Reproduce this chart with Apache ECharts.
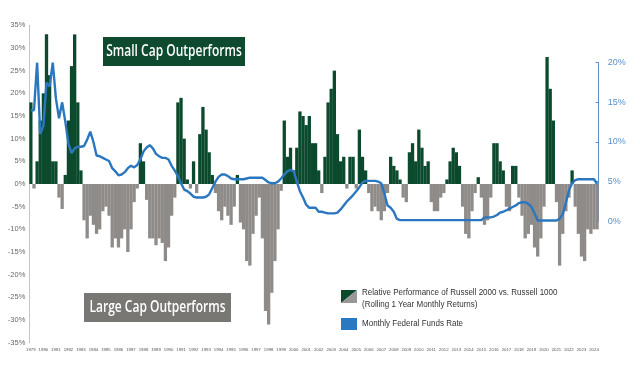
<!DOCTYPE html>
<html>
<head>
<meta charset="utf-8">
<script src="https://cdn.jsdelivr.net/npm/echarts@6/dist/echarts.min.js"></script>
<style>
html,body{margin:0;padding:0;background:#fff;}
#chart{width:640px;height:375px;}
</style>
</head>
<body>
<div id="chart"></div>
<script>
// Quarterly categories, 1979 Q1 .. 2024 Q2
var startYear = 1979;
var quarterCount = 182;
var categories = [];
for (var i = 0; i < quarterCount; i++) {
  categories.push((startYear + Math.floor(i / 4)) + ' Q' + (i % 4 + 1));
}

// Relative performance of Russell 2000 vs Russell 1000 (rolling 1y, %), read per quarter
var relPerf = [
  18, -1, 5, 14,        // 1979
  20, 33, 24, 5,        // 1980
  5, -3, -5.5, 2,       // 1981
  14, 26, 33, 18,       // 1982
  3, -8, -12, -7,       // 1983
  -9, -11, -10, -6,     // 1984
  -5, -7, -14, -12,     // 1985
  -14, -12, -10, -15,   // 1986
  -10, -4, -1, 9,       // 1987
  5, -3.5, -12, -12,    // 1988
  -13.5, -12, -13, -17, // 1989
  -14, -7, -3, 18,      // 1990
  19, 10, 1, -1,        // 1991
  5, -2, 11, 17,        // 1992
  12, 7, 2, -2,         // 1993
  -6, -8, -5, -7,       // 1994
  -9, -5, 2, -8.5,      // 1995
  -10, -17, -18, -11,   // 1996
  -7, -3, -12, -28,     // 1997
  -31, -24, -17, -10,   // 1998
  -1.5, 14, 6, 8,       // 1999
  3, 8, 16, 15,         // 2000
  13, 15, 9, 9,         // 2001
  3, -2, 6, 18,         // 2002
  21, 25, 11, 5,        // 2003
  6, -1, 6, 6,          // 2004
  -1, 12, 6, 3,         // 2005
  -2, -6, -5, -6,       // 2006
  -8, -6, -2, 6,        // 2007
  4, 3, 1, -3,          // 2008
  -4, 7, 9, 5,          // 2009
  12, 8, 4, 5,          // 2010
  -4, -6, -6, -3,       // 2011
  -2, 1, 5, 8,          // 2012
  7, 4, -5, -11,        // 2013
  -12, -6, -2, 1.5,     // 2014
  -3, -9, -8, -3,       // 2015
  9, 9, 5, 3,           // 2016
  -5, -6, 4, 4,         // 2017
  -3, -7, -12, -11,     // 2018
  -9, -14, -16, -12,    // 2019
  -5, 28, 21, 14,       // 2020
  -4, -18, -11, -6,     // 2021
  -3, 3, -5, -11,       // 2022
  -16, -17, -10, -11,   // 2023
  -10, -10              // 2024
];

// Monthly Federal Funds Rate (%), sampled per quarter
var fedFunds = [
  14, 14, 20, 11,
  12, 17.5, 17, 20,
  15.5, 13, 15, 12.6,
  9.8, 8.6, 9.2, 9.4,
  9.4, 9.5, 10.3, 11.3,
  10, 8.3, 8.2, 8,
  7.8, 7.6, 6.7, 6.3,
  5.8, 5.9, 6.2, 6.7,
  7, 6.8, 7.1, 7.8,
  8.8, 9.3, 9.6, 9.2,
  8.5, 8.2, 8, 8,
  7.8, 7, 6.4, 5.7,
  4.8, 4, 3.8, 3.5,
  3.1, 3, 3, 3,
  3.1, 3.4, 4.2, 5,
  5.6, 5.9, 5.9, 5.7,
  5.4, 5.3, 5.3, 5.3,
  5.3, 5.4, 5.5, 5.5,
  5.5, 5.5, 5.5, 5.2,
  4.9, 4.8, 4.8, 5,
  5.4, 5.9, 6.3, 6.5,
  6.3, 5, 3.8, 3,
  2.1, 1.7, 1.7, 1.7,
  1.2, 1.2, 1.1, 1,
  1, 1, 1.1, 1.5,
  2, 2.5, 2.9, 3.3,
  3.8, 4.3, 4.9, 5.1,
  5.1, 5.1, 5.1, 5.0,
  4.8, 3.5, 2, 1.7,
  1.2, 0.3, 0.15, 0.15,
  0.15, 0.15, 0.15, 0.15,
  0.15, 0.15, 0.15, 0.15,
  0.15, 0.15, 0.15, 0.15,
  0.15, 0.15, 0.15, 0.15,
  0.15, 0.15, 0.15, 0.15,
  0.15, 0.15, 0.15, 0.15,
  0.15, 0.5, 0.5, 0.5,
  0.6, 0.8, 1.1, 1.2,
  1.4, 1.6, 1.8, 2,
  2.3, 2.4, 2.4, 2.2,
  1.8, 1.0, 0.1, 0.1,
  0.1, 0.1, 0.1, 0.1,
  0.1, 0.3, 0.9, 2.3,
  3.9, 4.8, 5.2, 5.3,
  5.3, 5.3, 5.3, 5.3,
  5.3, 4.7
];

var legendLabels = [
  'Relative Performance of Russell 2000 vs. Russell 1000',
  '(Rolling 1 Year Monthly Returns)',
  'Monthly Federal Funds Rate'
];
var boxLabels = ['Small Cap Outperforms', 'Large Cap Outperforms'];

var GREEN = '#0c4a2d';
var GRAY = '#8e8b88';
var BLUE = '#2b77bf';
var AXISBLUE = '#5b8fc8';

var chart = echarts.init(document.getElementById('chart'), null, {renderer: 'canvas'});
chart.setOption({
  animation: false,
  backgroundColor: '#ffffff',
  grid: [
    {left: 29.3, right: 41.3, top: 25.3, height: 317.4},
    {left: 29.3, right: 41.3, top: 62.7, height: 158.6}
  ],
  xAxis: [
    {
      type: 'category', gridIndex: 0, data: categories, boundaryGap: true,
      position: 'bottom',
      axisLine: {show: false, onZero: false},
      axisTick: {show: false},
      axisLabel: {
        interval: function (idx) { return idx % 4 === 0; },
        formatter: function (v) { return v.slice(0, 4); },
        fontSize: 4.3, color: '#555', margin: 5, fontFamily: 'Liberation Sans'
      }
    },
    {type: 'category', gridIndex: 1, data: categories, boundaryGap: true, show: false}
  ],
  yAxis: [
    {
      type: 'value', gridIndex: 0, min: -35, max: 35, interval: 5,
      axisLine: {show: true, lineStyle: {color: '#c4c4c4'}},
      axisTick: {show: false},
      splitLine: {show: false},
      axisLabel: {formatter: '{value}%', fontSize: 7.5, color: '#6a6a6a', margin: 4, fontFamily: 'Liberation Sans'}
    },
    {
      type: 'value', gridIndex: 1, position: 'right', min: 0, max: 20, interval: 5,
      axisLine: {show: true, lineStyle: {color: AXISBLUE, width: 1}},
      axisTick: {show: true, inside: true, length: 3, lineStyle: {color: AXISBLUE}},
      splitLine: {show: false},
      axisLabel: {formatter: '{value}%', fontSize: 9, color: AXISBLUE, margin: 9, fontFamily: 'Liberation Sans'}
    }
  ],
  series: [
    {
      type: 'bar', xAxisIndex: 0, yAxisIndex: 0, data: relPerf,
      barWidth: 3.3,
      itemStyle: {color: function (p) { return p.value >= 0 ? GREEN : GRAY; }}
    },
    {
      type: 'line', xAxisIndex: 1, yAxisIndex: 1, data: fedFunds,
      symbol: 'none', clip: false, z: 5,
      lineStyle: {color: BLUE, width: 2.4}
    }
  ],
  graphic: [
    {type: 'rect', shape: {x: 103, y: 37, width: 142, height: 29}, style: {fill: '#0d4a2e'}, z: 10},
    {type: 'text', x: 174, y: 51.5, scaleX: 0.75, z: 11,
      style: {text: boxLabels[0], fill: '#fff', font: '600 16px "Open Sans"', textAlign: 'center', textVerticalAlign: 'middle'}},
    {type: 'rect', shape: {x: 84, y: 293, width: 147, height: 29}, style: {fill: '#797774'}, z: 10},
    {type: 'text', x: 157.5, y: 307.5, scaleX: 0.75, z: 11,
      style: {text: boxLabels[1], fill: '#fff', font: '600 16px "Open Sans"', textAlign: 'center', textVerticalAlign: 'middle'}},
    {type: 'polygon', shape: {points: [[341, 290], [357, 290], [341, 303]]}, style: {fill: GREEN}, z: 10},
    {type: 'polygon', shape: {points: [[357, 290], [357, 303], [341, 303]]}, style: {fill: '#9a9896'}, z: 10},
    {type: 'text', x: 362, y: 292.7, scaleX: 0.89, z: 11,
      style: {text: legendLabels[0], fill: '#333', font: '9px "Liberation Sans"', textAlign: 'left', textVerticalAlign: 'middle'}},
    {type: 'text', x: 362, y: 304.5, scaleX: 0.89, z: 11,
      style: {text: legendLabels[1], fill: '#333', font: '9px "Liberation Sans"', textAlign: 'left', textVerticalAlign: 'middle'}},
    {type: 'rect', shape: {x: 341, y: 318, width: 16, height: 12}, style: {fill: '#2a78c2'}, z: 10},
    {type: 'text', x: 362, y: 324, scaleX: 0.89, z: 11,
      style: {text: legendLabels[2], fill: '#333', font: '9px "Liberation Sans"', textAlign: 'left', textVerticalAlign: 'middle'}}
  ]
});
</script>
</body>
</html>
